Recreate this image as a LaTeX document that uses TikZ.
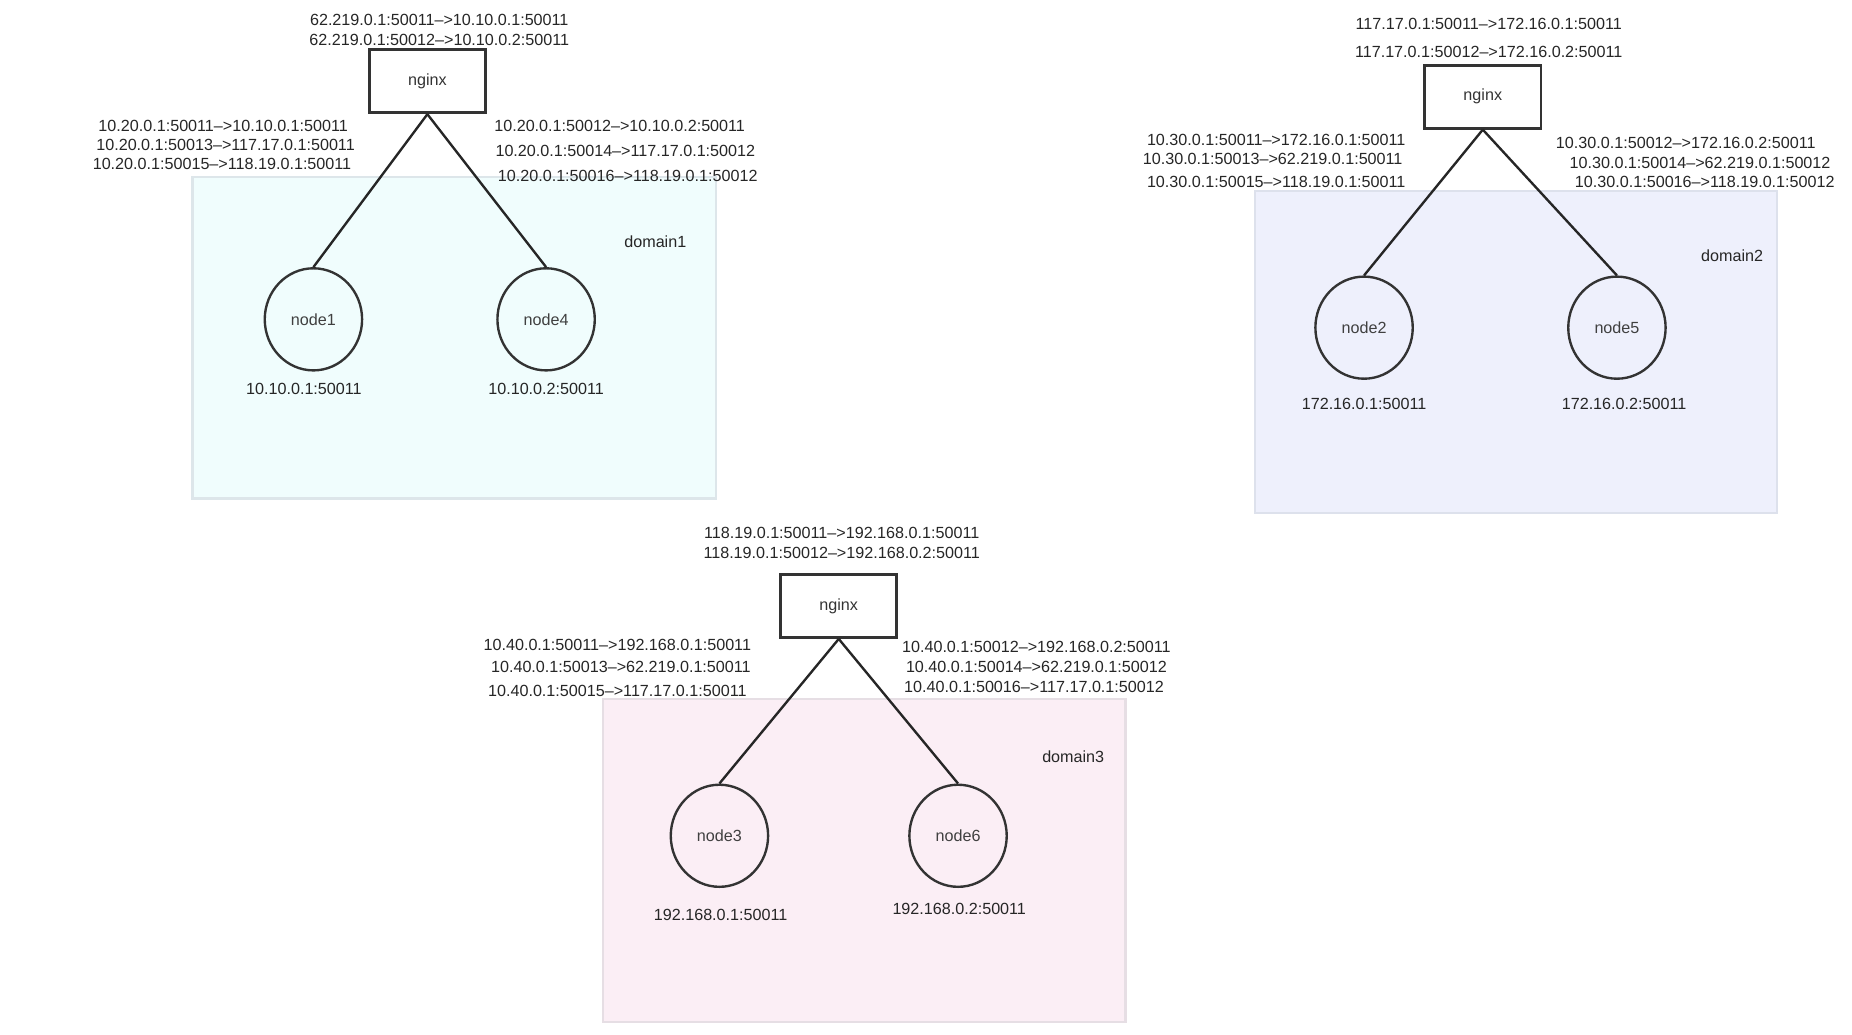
\documentclass[tikz,border=0pt]{standalone}
\usepackage{fontspec}
\usetikzlibrary{shapes.geometric}
\setmainfont{Liberation Sans}
\begin{document}
\begin{tikzpicture}[x=0.5pt,y=-0.5pt,
  ngx/.style={draw=black!80, line width=1.2pt, minimum width=49pt, minimum height=26.5pt, font=\fontsize{6.8}{8}\selectfont, text=black!80},
  nd/.style={draw=black!80, line width=1pt, ellipse, minimum width=41pt, minimum height=43pt, font=\fontsize{6.8}{8}\selectfont, text=black!75},
  lb/.style={font=\fontsize{6.8}{8}\selectfont, text=black!85, inner sep=0pt},
  ln/.style={draw=black!85, line width=1pt}]
\useasboundingbox (0,0) rectangle (1560,871);
% domain rectangles
\draw[fill={rgb,255:red,240;green,253;blue,253}, draw={rgb,255:red,221;green,230;blue,234}, line width=1pt] (162,149) rectangle (603,420);
\draw[fill={rgb,255:red,238;green,240;blue,252}, draw={rgb,255:red,221;green,225;blue,236}, line width=1pt] (1057,161) rectangle (1497,432);
\draw[fill={rgb,255:red,251;green,238;blue,245}, draw={rgb,255:red,230;green,222;blue,228}, line width=1pt] (508,589) rectangle (948,861);
% domain1
\node[ngx] (n1) at (360,68.5) {nginx};
\node[nd] (a1) at (264,269) {node1};
\node[nd] (a4) at (460,269) {node4};
\draw[ln] (n1.south) -- (a1.north);
\draw[ln] (n1.south) -- (a4.north);
\node[lb] (t11) at (370,17) {62.219.0.1:50011-->10.10.0.1:50011};
\node[lb] (t12) at (370,34) {62.219.0.1:50012-->10.10.0.2:50011};
\node[lb] (l11) at (188,106) {10.20.0.1:50011-->10.10.0.1:50011};
\node[lb] (l12) at (190,122) {10.20.0.1:50013-->117.17.0.1:50011};
\node[lb] (l13) at (187,138) {10.20.0.1:50015-->118.19.0.1:50011};
\node[lb,anchor=west] (r11) at (416,106) {10.20.0.1:50012-->10.10.0.2:50011};
\node[lb,anchor=west] (r12) at (417,127) {10.20.0.1:50014-->117.17.0.1:50012};
\node[lb,anchor=west] (r13) at (419,148) {10.20.0.1:50016-->118.19.0.1:50012};
\node[lb] (b11) at (256,328) {10.10.0.1:50011};
\node[lb] (b14) at (460,328) {10.10.0.2:50011};
\node[lb] (d1) at (552,204) {domain1};
% domain2
\node[ngx] (n2) at (1249,81.5) {nginx};
\node[nd] (a2) at (1149,276) {node2};
\node[nd] (a5) at (1362,276) {node5};
\draw[ln] (n2.south) -- (a2.north);
\draw[ln] (n2.south) -- (a5.north);
\node[lb] (t21) at (1254,20) {117.17.0.1:50011-->172.16.0.1:50011};
\node[lb] (t22) at (1254,44) {117.17.0.1:50012-->172.16.0.2:50011};
\node[lb] (l21) at (1075,118) {10.30.0.1:50011-->172.16.0.1:50011};
\node[lb] (l22) at (1072,134) {10.30.0.1:50013-->62.219.0.1:50011};
\node[lb] (l23) at (1075,153) {10.30.0.1:50015-->118.19.0.1:50011};
\node[lb] (r21) at (1420,120) {10.30.0.1:50012-->172.16.0.2:50011};
\node[lb] (r22) at (1432,137) {10.30.0.1:50014-->62.219.0.1:50012};
\node[lb] (r23) at (1436,153) {10.30.0.1:50016-->118.19.0.1:50012};
\node[lb] (b22) at (1149,340) {172.16.0.1:50011};
\node[lb] (b25) at (1368,340) {172.16.0.2:50011};
\node[lb] (d2) at (1459,215) {domain2};
% domain3
\node[ngx] (n3) at (706.5,510.5) {nginx};
\node[nd] (a3) at (606,704) {node3};
\node[nd] (a6) at (807,704) {node6};
\draw[ln] (n3.south) -- (a3.north);
\draw[ln] (n3.south) -- (a6.north);
\node[lb] (t31) at (709,449) {118.19.0.1:50011-->192.168.0.1:50011};
\node[lb] (t32) at (709,466) {118.19.0.1:50012-->192.168.0.2:50011};
\node[lb] (l31) at (520,543) {10.40.0.1:50011-->192.168.0.1:50011};
\node[lb] (l32) at (523,562) {10.40.0.1:50013-->62.219.0.1:50011};
\node[lb] (l33) at (520,582) {10.40.0.1:50015-->117.17.0.1:50011};
\node[lb] (r31) at (873,545) {10.40.0.1:50012-->192.168.0.2:50011};
\node[lb] (r32) at (873,562) {10.40.0.1:50014-->62.219.0.1:50012};
\node[lb] (r33) at (871,579) {10.40.0.1:50016-->117.17.0.1:50012};
\node[lb] (b33) at (607,771) {192.168.0.1:50011};
\node[lb] (b36) at (808,766) {192.168.0.2:50011};
\node[lb] (d3) at (904,637) {domain3};
\end{tikzpicture}
\end{document}
